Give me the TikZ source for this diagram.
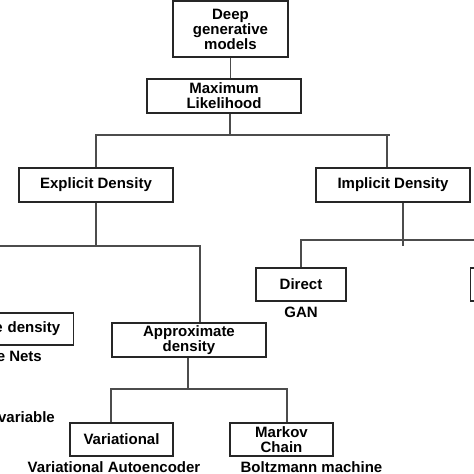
\documentclass[tikz,border=0pt]{standalone}
\usepackage{fontspec}
\setmainfont{Liberation Sans}
\begin{document}
\begin{tikzpicture}[x=1pt, y=-1pt,
    box/.style={draw=black!85, line width=1.5pt, minimum height=34pt, align=center, inner sep=2pt, font=\fontsize{15}{15}\selectfont\bfseries},
    lbl/.style={font=\fontsize{15}{15}\selectfont\bfseries, inner sep=0pt},
    link/.style={draw=black!70, line width=1.5pt}
]
\useasboundingbox (0,0) rectangle (474,474);
\clip (0,0) rectangle (474,474);

% Boxes (top to bottom)
\node[box, minimum width=115pt, minimum height=56pt] (deep) at (230.5,29) {Deep\\generative\\models};
\node[box, minimum width=154pt] (ml) at (224,96) {Maximum\\Likelihood};
\node[box, minimum width=154pt] (expl) at (96,185) {Explicit Density};
\node[box, minimum width=154pt] (impl) at (393,185) {Implicit Density};
\node[box, minimum width=90pt, minimum height=33pt] (direct) at (301,284.5) {Direct};
\node[box, minimum width=90pt, minimum height=33pt, anchor=west] (other) at (469.5,284.5) {};
\node[box, text width=110pt, align=right, inner xsep=13pt, minimum height=32pt, anchor=east] (tract) at (74,329) {e density};
\node[box, minimum width=154pt] (approx) at (189,340) {Approximate\\density};
\node[box, minimum width=103pt, minimum height=33pt] (var) at (121.5,439.5) {Variational};
\node[box, minimum width=103pt, minimum height=33pt] (markov) at (281.5,439.5) {Markov\\Chain};

% Model names
\node[lbl] (gan) at (301,312) {GAN};
\node[lbl, anchor=east] (nets) at (42,356) {e Nets};
\node[lbl, anchor=east] (latent) at (55,417) {variable};
\node[lbl] (vae) at (114,467) {Variational Autoencoder};
\node[lbl] (boltz) at (311.5,467) {Boltzmann machine};

% Tree links
\coordinate (b1) at (230,135);
\coordinate (r1) at (387,135);
\coordinate (r1e) at (390,135);
\draw[link] (deep.south) -- (deep.south |- ml.north);
\draw[link] (b1 |- ml.south) -- (b1);
\draw[link] (expl.north) -- (expl.north |- b1) -- (r1e);
\draw[link] (r1) -- (r1 |- impl.north);

\coordinate (b2l) at (-5,246);
\coordinate (b2r) at (200,246);
\draw[link] (expl.south) -- (expl.south |- b2l);
\draw[link] (b2l) -- (b2r) -- (b2r |- approx.north);

\coordinate (b3) at (403,240);
\coordinate (b3t) at (403,246);
\coordinate (b3e) at (480,240);
\draw[link] (impl.south -| b3) -- (b3t);
\draw[link] (direct.north) -- (direct.north |- b3) -- (b3e);

\coordinate (b4) at (188,389);
\coordinate (b4l) at (111,389);
\coordinate (b4r) at (287,389);
\draw[link] (approx.south -| b4) -- (b4);
\draw[link] (b4l |- var.north) -- (b4l) -- (b4r) -- (b4r |- markov.north);
\end{tikzpicture}
\end{document}
